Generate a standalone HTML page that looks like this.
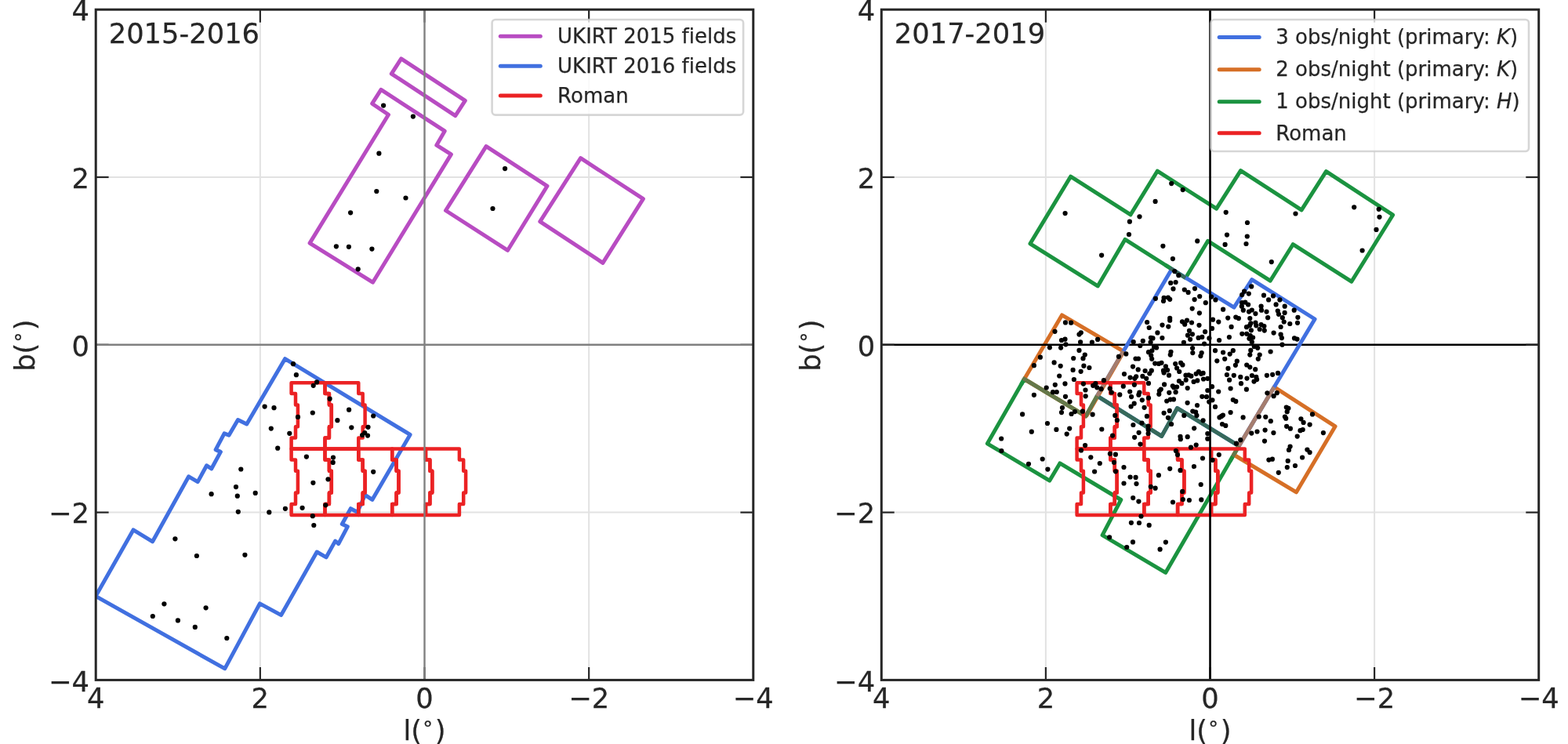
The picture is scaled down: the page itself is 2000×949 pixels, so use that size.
<!DOCTYPE html>
<html lang="en"><head><meta charset="utf-8"><title>UKIRT fields and Roman footprint</title>
<style>html,body{margin:0;padding:0;background:#fff;overflow:hidden}svg{display:block}text{font-family:'DejaVu Sans','Liberation Sans',sans-serif;font-variant-ligatures:none;font-feature-settings:"liga" 0,"clig" 0;stroke:#262626;stroke-width:0.25px}</style></head><body>
<svg width="2000" height="949" viewBox="0 0 2000 949">
<rect width="2000" height="949" fill="#fff"/>
<defs><clipPath id="cl"><rect x="122.2" y="12.2" width="838.6" height="855.2"/></clipPath><clipPath id="cr"><rect x="1124.3" y="12.2" width="838.6" height="855.2"/></clipPath></defs>
<g stroke="#e2e2e2" stroke-width="2.0">
<line x1="331.85" y1="12.2" x2="331.85" y2="867.4"/>
<line x1="122.2" y1="226.00" x2="960.8" y2="226.00"/>
<line x1="751.15" y1="12.2" x2="751.15" y2="867.4"/>
<line x1="122.2" y1="653.60" x2="960.8" y2="653.60"/>
</g>
<g clip-path="url(#cl)">
<polygon points="511.7,74.9 593.3,128.4 580.8,147.6 499.3,94.1" fill="none" stroke="#b84cc2" stroke-width="5.0" stroke-linejoin="round" stroke-linecap="butt"/>
<polygon points="486.0,114.4 567.2,167.2 556.8,185.2 575.4,196.9 475.5,360.2 395.1,310.1 495.5,146.3 474.7,132.2" fill="none" stroke="#b84cc2" stroke-width="5.0" stroke-linejoin="round" stroke-linecap="butt"/>
<polygon points="620.1,186.7 698.0,237.3 647.6,319.3 568.5,268.5" fill="none" stroke="#b84cc2" stroke-width="5.0" stroke-linejoin="round" stroke-linecap="butt"/>
<polygon points="740.6,201.7 820.4,253.6 768.9,335.3 688.8,282.7" fill="none" stroke="#b84cc2" stroke-width="5.0" stroke-linejoin="round" stroke-linecap="butt"/>
<polygon points="363.5,457.7 523.1,554.4 474.8,637.4 465.7,631.3 455.8,653.2 447.3,648.7 436.3,668.5 443.3,671.8 431.8,693.7 427.6,690.1 416.1,710.8 404.2,704.0 358.6,784.6 331.4,769.9 286.8,852.9 122.0,760.5 170.0,675.9 194.6,690.8 240.7,607.8 252.2,614.6 263.6,593.8 269.8,597.8 281.4,576.4 275.1,573.6 286.1,552.8 292.1,555.1 303.5,535.6 314.7,541.0" fill="none" stroke="#4170e0" stroke-width="5.0" stroke-linejoin="round" stroke-linecap="butt"/>
<polygon points="371.6,488.3 371.6,502.1 377.0,502.1 377.0,516.4 379.9,516.4 379.9,544.2 377.0,544.2 377.0,558.5 371.6,558.5 371.6,572.6 414.5,572.6 414.5,558.5 419.9,558.5 419.9,544.2 422.8,544.2 422.8,516.4 419.9,516.4 419.9,502.1 414.5,502.1 414.5,488.3" fill="none" stroke="#eb2224" stroke-width="4.5" stroke-linejoin="round" stroke-linecap="butt"/>
<polygon points="414.5,488.3 414.5,502.1 419.9,502.1 419.9,516.4 422.8,516.4 422.8,544.2 419.9,544.2 419.9,558.5 414.5,558.5 414.5,572.6 457.3,572.6 457.3,558.5 462.7,558.5 462.7,544.2 465.6,544.2 465.6,516.4 462.7,516.4 462.7,502.1 457.3,502.1 457.3,488.3" fill="none" stroke="#eb2224" stroke-width="4.5" stroke-linejoin="round" stroke-linecap="butt"/>
<polygon points="371.6,572.6 371.6,586.5 377.0,586.5 377.0,600.7 379.9,600.7 379.9,628.6 377.0,628.6 377.0,643.0 371.6,643.0 371.6,657.1 414.5,657.1 414.5,643.0 419.9,643.0 419.9,628.6 422.8,628.6 422.8,600.7 419.9,600.7 419.9,586.5 414.5,586.5 414.5,572.6" fill="none" stroke="#eb2224" stroke-width="4.5" stroke-linejoin="round" stroke-linecap="butt"/>
<polygon points="414.5,572.6 414.5,586.5 419.9,586.5 419.9,600.7 422.8,600.7 422.8,628.6 419.9,628.6 419.9,643.0 414.5,643.0 414.5,657.1 457.3,657.1 457.3,643.0 462.7,643.0 462.7,628.6 465.6,628.6 465.6,600.7 462.7,600.7 462.7,586.5 457.3,586.5 457.3,572.6" fill="none" stroke="#eb2224" stroke-width="4.5" stroke-linejoin="round" stroke-linecap="butt"/>
<polygon points="457.3,572.6 457.3,586.5 462.7,586.5 462.7,600.7 465.6,600.7 465.6,628.6 462.7,628.6 462.7,643.0 457.3,643.0 457.3,657.1 500.2,657.1 500.2,643.0 505.6,643.0 505.6,628.6 508.5,628.6 508.5,600.7 505.6,600.7 505.6,586.5 500.2,586.5 500.2,572.6" fill="none" stroke="#eb2224" stroke-width="4.5" stroke-linejoin="round" stroke-linecap="butt"/>
<polygon points="500.2,572.6 500.2,586.5 505.6,586.5 505.6,600.7 508.5,600.7 508.5,628.6 505.6,628.6 505.6,643.0 500.2,643.0 500.2,657.1 543.0,657.1 543.0,643.0 548.4,643.0 548.4,628.6 551.3,628.6 551.3,600.7 548.4,600.7 548.4,586.5 543.0,586.5 543.0,572.6" fill="none" stroke="#eb2224" stroke-width="4.5" stroke-linejoin="round" stroke-linecap="butt"/>
<polygon points="543.0,572.6 543.0,586.5 548.4,586.5 548.4,600.7 551.3,600.7 551.3,628.6 548.4,628.6 548.4,643.0 543.0,643.0 543.0,657.1 585.9,657.1 585.9,643.0 591.2,643.0 591.2,628.6 594.1,628.6 594.1,600.7 591.2,600.7 591.2,586.5 585.9,586.5 585.9,572.6" fill="none" stroke="#eb2224" stroke-width="4.5" stroke-linejoin="round" stroke-linecap="butt"/>
</g>
<g stroke="#262626" stroke-width="2.2">
<line x1="331.85" y1="12.2" x2="331.85" y2="28.599999999999998"/>
<line x1="331.85" y1="867.4" x2="331.85" y2="851.0"/>
<line x1="122.2" y1="226.00" x2="138.6" y2="226.00"/>
<line x1="960.8" y1="226.00" x2="944.4" y2="226.00"/>
<line x1="541.50" y1="12.2" x2="541.50" y2="28.599999999999998"/>
<line x1="541.50" y1="867.4" x2="541.50" y2="851.0"/>
<line x1="122.2" y1="439.80" x2="138.6" y2="439.80"/>
<line x1="960.8" y1="439.80" x2="944.4" y2="439.80"/>
<line x1="751.15" y1="12.2" x2="751.15" y2="28.599999999999998"/>
<line x1="751.15" y1="867.4" x2="751.15" y2="851.0"/>
<line x1="122.2" y1="653.60" x2="138.6" y2="653.60"/>
<line x1="960.8" y1="653.60" x2="944.4" y2="653.60"/>
</g>
<line x1="541.50" y1="12.2" x2="541.50" y2="867.4" stroke="#808080" stroke-width="2.4"/>
<line x1="122.2" y1="439.80" x2="960.8" y2="439.80" stroke="#808080" stroke-width="2.4"/>
<g fill="#000">
<circle cx="489.1" cy="134.6" r="3.1"/>
<circle cx="526.9" cy="148.6" r="3.1"/>
<circle cx="483.4" cy="195.7" r="3.1"/>
<circle cx="480.3" cy="244.0" r="3.1"/>
<circle cx="517.5" cy="252.5" r="3.1"/>
<circle cx="447.1" cy="271.3" r="3.1"/>
<circle cx="428.9" cy="314.3" r="3.1"/>
<circle cx="444.9" cy="314.8" r="3.1"/>
<circle cx="474.4" cy="317.6" r="3.1"/>
<circle cx="456.7" cy="343.3" r="3.1"/>
<circle cx="644.1" cy="215.1" r="3.1"/>
<circle cx="628.5" cy="266.0" r="3.1"/>
<circle cx="374.0" cy="464.2" r="3.1"/>
<circle cx="377.9" cy="478.2" r="3.1"/>
<circle cx="404.1" cy="487.4" r="3.1"/>
<circle cx="399.7" cy="491.8" r="3.1"/>
<circle cx="420.6" cy="508.7" r="3.1"/>
<circle cx="337.6" cy="518.6" r="3.1"/>
<circle cx="349.5" cy="520.2" r="3.1"/>
<circle cx="398.8" cy="526.5" r="3.1"/>
<circle cx="380.0" cy="531.9" r="3.1"/>
<circle cx="445.1" cy="522.7" r="3.1"/>
<circle cx="476.2" cy="530.5" r="3.1"/>
<circle cx="430.4" cy="536.2" r="3.1"/>
<circle cx="345.8" cy="546.6" r="3.1"/>
<circle cx="448.3" cy="545.3" r="3.1"/>
<circle cx="469.5" cy="544.8" r="3.1"/>
<circle cx="369.3" cy="552.8" r="3.1"/>
<circle cx="465.2" cy="552.0" r="3.1"/>
<circle cx="462.1" cy="555.0" r="3.1"/>
<circle cx="469.0" cy="555.6" r="3.1"/>
<circle cx="354.2" cy="571.7" r="3.1"/>
<circle cx="390.9" cy="582.6" r="3.1"/>
<circle cx="425.0" cy="583.6" r="3.1"/>
<circle cx="424.7" cy="589.9" r="3.1"/>
<circle cx="307.3" cy="598.5" r="3.1"/>
<circle cx="476.2" cy="601.8" r="3.1"/>
<circle cx="418.5" cy="611.3" r="3.1"/>
<circle cx="399.4" cy="615.8" r="3.1"/>
<circle cx="301.0" cy="621.1" r="3.1"/>
<circle cx="325.7" cy="628.9" r="3.1"/>
<circle cx="302.8" cy="632.7" r="3.1"/>
<circle cx="415.3" cy="644.3" r="3.1"/>
<circle cx="385.6" cy="647.8" r="3.1"/>
<circle cx="363.9" cy="648.8" r="3.1"/>
<circle cx="303.8" cy="652.8" r="3.1"/>
<circle cx="343.3" cy="653.4" r="3.1"/>
<circle cx="398.8" cy="658.2" r="3.1"/>
<circle cx="400.3" cy="670.0" r="3.1"/>
<circle cx="269.6" cy="630.2" r="3.1"/>
<circle cx="223.4" cy="687.3" r="3.1"/>
<circle cx="250.9" cy="709.0" r="3.1"/>
<circle cx="312.4" cy="707.8" r="3.1"/>
<circle cx="209.4" cy="770.3" r="3.1"/>
<circle cx="262.6" cy="775.3" r="3.1"/>
<circle cx="194.8" cy="786.0" r="3.1"/>
<circle cx="226.9" cy="791.4" r="3.1"/>
<circle cx="248.8" cy="799.9" r="3.1"/>
<circle cx="289.3" cy="814.0" r="3.1"/>
</g>
<rect x="122.2" y="12.2" width="838.5999999999999" height="855.1999999999999" fill="none" stroke="#262626" stroke-width="3.0" stroke-linejoin="miter"/>
<g font-size="35.3" fill="#262626">
<text transform="translate(114.00,25.90) scale(1,1.02)" font-size="35.3" text-anchor="end">4</text>
<text transform="translate(114.00,239.70) scale(1,1.02)" font-size="35.3" text-anchor="end">2</text>
<text transform="translate(114.00,453.50) scale(1,1.02)" font-size="35.3" text-anchor="end">0</text>
<text transform="translate(114.00,667.30) scale(1,1.02)" font-size="35.3" text-anchor="end">−2</text>
<text transform="translate(114.00,881.60) scale(1,1.02)" font-size="35.3" text-anchor="end">−4</text>
<text transform="translate(122.20,902.60) scale(1,1.02)" font-size="35.3" text-anchor="middle">4</text>
<text transform="translate(331.85,902.60) scale(1,1.02)" font-size="35.3" text-anchor="middle">2</text>
<text transform="translate(541.50,902.60) scale(1,1.02)" font-size="35.3" text-anchor="middle">0</text>
<text transform="translate(751.15,902.60) scale(1,1.02)" font-size="35.3" text-anchor="middle">−2</text>
<text transform="translate(960.80,902.60) scale(1,1.02)" font-size="35.3" text-anchor="middle">−4</text>
<text x="541.5" y="944.4" text-anchor="middle">l(<tspan font-size="25.3" dx="-0.3" dy="-13.6">∘</tspan><tspan dx="1.0" dy="13.6">)</tspan></text>
<text transform="translate(43.9,440.6) rotate(-90)" text-anchor="middle">b(<tspan font-size="25.3" dx="-0.3" dy="-12.9">∘</tspan><tspan dx="1.0" dy="12.9">)</tspan></text>
</g>
<text transform="translate(138.70,54.90) scale(1,1.02)" font-size="35.3" text-anchor="start" fill="#262626">2015-2016</text>
<rect x="627.6" y="25.0" width="320.5" height="121.6" rx="4.3" ry="4.3" fill="#fff" fill-opacity="0.8" stroke="#cccccc" stroke-opacity="0.8" stroke-width="2.6"/>
<line x1="638.3" y1="46.2" x2="689.3" y2="46.2" stroke="#b84cc2" stroke-width="5.0" stroke-linecap="round"/>
<text x="711.1" y="55.0" font-size="26.0" fill="#262626">UKIRT 2015 fields</text>
<line x1="638.3" y1="84.2" x2="689.3" y2="84.2" stroke="#4170e0" stroke-width="5.0" stroke-linecap="round"/>
<text x="711.1" y="93.0" font-size="26.0" fill="#262626">UKIRT 2016 fields</text>
<line x1="638.3" y1="122.1" x2="689.3" y2="122.1" stroke="#eb2224" stroke-width="5.0" stroke-linecap="round"/>
<text x="711.1" y="130.9" font-size="26.0" fill="#262626">Roman</text>
<g stroke="#e2e2e2" stroke-width="2.0">
<line x1="1333.90" y1="12.2" x2="1333.90" y2="867.4"/>
<line x1="1124.3" y1="226.00" x2="1962.7" y2="226.00"/>
<line x1="1753.10" y1="12.2" x2="1753.10" y2="867.4"/>
<line x1="1124.3" y1="653.60" x2="1962.7" y2="653.60"/>
</g>
<g clip-path="url(#cr)">
<polygon points="1365.6,225.2 1442.1,273.8 1476.2,218.2 1551.6,266.2 1582.5,217.6 1660.1,267.8 1691.5,218.7 1776.6,274.2 1723.8,359.2 1649.2,311.7 1620.2,358.2 1540.7,307.3 1512.3,354.5 1435.0,305.4 1400.2,364.9 1314.0,310.8" fill="none" stroke="#1b9340" stroke-width="5.0" stroke-linejoin="round" stroke-linecap="butt"/>
<polygon points="1306.5,483.5 1385.0,530.8 1399.4,505.0 1481.7,556.4 1501.6,520.6 1580.3,568.8 1486.7,730.4 1406.1,682.7 1429.8,637.5 1351.9,590.9 1338.8,613.1 1259.4,565.8" fill="none" stroke="#1b9340" stroke-width="5.0" stroke-linejoin="round" stroke-linecap="butt"/>
<polygon points="1354.5,401.9 1432.8,448.0 1385.0,530.8 1306.5,483.5" fill="none" stroke="#d66f26" stroke-width="5.0" stroke-linejoin="round" stroke-linecap="butt"/>
<polygon points="1625.2,493.7 1703.1,543.8 1653.5,627.8 1573.6,580.0" fill="none" stroke="#d66f26" stroke-width="5.0" stroke-linejoin="round" stroke-linecap="butt"/>
<line x1="1124.3" y1="439.80" x2="1962.7" y2="439.80" stroke="#000" stroke-width="2.6"/>
<polygon points="1494.6,343.3 1574.0,392.2 1596.8,356.6 1677.1,407.0 1580.3,568.8 1501.6,520.6 1481.7,556.4 1399.4,505.0" fill="none" stroke="#4170e0" stroke-width="5.0" stroke-linejoin="round" stroke-linecap="butt"/>
<polyline points="1433.3,448.3 1385.5,531.1" fill="none" stroke="#d66f26" stroke-width="5.0" stroke-linejoin="round" stroke-linecap="butt"/>
<polyline points="1486.6,338.2 1492.5,341.9" fill="none" stroke="#1b9340" stroke-width="5.0" stroke-linejoin="round" stroke-linecap="butt"/>
<polyline points="1306.5,483.5 1302.5,490.5" fill="none" stroke="#1b9340" stroke-width="5.0" stroke-linejoin="round" stroke-linecap="butt"/>
<polyline points="1572.3,582.2 1568.6,588.7" fill="none" stroke="#1b9340" stroke-width="5.0" stroke-linejoin="round" stroke-linecap="butt"/>
<polyline points="1492.5,341.9 1512.1,354.5" fill="none" stroke="#37695a" stroke-width="5.0" stroke-linejoin="round" stroke-linecap="butt"/>
<polyline points="1399.4,505.0 1481.7,556.4 1501.6,520.6 1580.3,568.8" fill="none" stroke="#37695a" stroke-width="5.0" stroke-linejoin="round" stroke-linecap="butt"/>
<polyline points="1304.4,482.2 1385.0,530.8 1399.4,505.0" fill="none" stroke="#64784a" stroke-width="5.0" stroke-linejoin="round" stroke-linecap="butt"/>
<polyline points="1572.3,582.2 1580.3,568.8" fill="none" stroke="#64784a" stroke-width="5.0" stroke-linejoin="round" stroke-linecap="butt"/>
<polyline points="1399.4,505.0 1432.8,448.0" fill="none" stroke="#a57d6e" stroke-width="5.0" stroke-linejoin="round" stroke-linecap="butt"/>
<polyline points="1580.3,568.8 1625.2,493.7" fill="none" stroke="#a57d6e" stroke-width="5.0" stroke-linejoin="round" stroke-linecap="butt"/>
<polygon points="1373.6,488.3 1373.6,502.1 1379.0,502.1 1379.0,516.4 1381.9,516.4 1381.9,544.2 1379.0,544.2 1379.0,558.5 1373.6,558.5 1373.6,572.6 1416.4,572.6 1416.4,558.5 1421.8,558.5 1421.8,544.2 1424.7,544.2 1424.7,516.4 1421.8,516.4 1421.8,502.1 1416.4,502.1 1416.4,488.3" fill="none" stroke="#eb2224" stroke-width="4.5" stroke-linejoin="round" stroke-linecap="butt"/>
<polygon points="1416.4,488.3 1416.4,502.1 1421.8,502.1 1421.8,516.4 1424.7,516.4 1424.7,544.2 1421.8,544.2 1421.8,558.5 1416.4,558.5 1416.4,572.6 1459.3,572.6 1459.3,558.5 1464.7,558.5 1464.7,544.2 1467.6,544.2 1467.6,516.4 1464.7,516.4 1464.7,502.1 1459.3,502.1 1459.3,488.3" fill="none" stroke="#eb2224" stroke-width="4.5" stroke-linejoin="round" stroke-linecap="butt"/>
<polygon points="1373.6,572.6 1373.6,586.5 1379.0,586.5 1379.0,600.7 1381.9,600.7 1381.9,628.6 1379.0,628.6 1379.0,643.0 1373.6,643.0 1373.6,657.1 1416.4,657.1 1416.4,643.0 1421.8,643.0 1421.8,628.6 1424.7,628.6 1424.7,600.7 1421.8,600.7 1421.8,586.5 1416.4,586.5 1416.4,572.6" fill="none" stroke="#eb2224" stroke-width="4.5" stroke-linejoin="round" stroke-linecap="butt"/>
<polygon points="1416.4,572.6 1416.4,586.5 1421.8,586.5 1421.8,600.7 1424.7,600.7 1424.7,628.6 1421.8,628.6 1421.8,643.0 1416.4,643.0 1416.4,657.1 1459.3,657.1 1459.3,643.0 1464.7,643.0 1464.7,628.6 1467.6,628.6 1467.6,600.7 1464.7,600.7 1464.7,586.5 1459.3,586.5 1459.3,572.6" fill="none" stroke="#eb2224" stroke-width="4.5" stroke-linejoin="round" stroke-linecap="butt"/>
<polygon points="1459.3,572.6 1459.3,586.5 1464.7,586.5 1464.7,600.7 1467.6,600.7 1467.6,628.6 1464.7,628.6 1464.7,643.0 1459.3,643.0 1459.3,657.1 1502.1,657.1 1502.1,643.0 1507.5,643.0 1507.5,628.6 1510.4,628.6 1510.4,600.7 1507.5,600.7 1507.5,586.5 1502.1,586.5 1502.1,572.6" fill="none" stroke="#eb2224" stroke-width="4.5" stroke-linejoin="round" stroke-linecap="butt"/>
<polygon points="1502.1,572.6 1502.1,586.5 1507.5,586.5 1507.5,600.7 1510.4,600.7 1510.4,628.6 1507.5,628.6 1507.5,643.0 1502.1,643.0 1502.1,657.1 1545.0,657.1 1545.0,643.0 1550.4,643.0 1550.4,628.6 1553.3,628.6 1553.3,600.7 1550.4,600.7 1550.4,586.5 1545.0,586.5 1545.0,572.6" fill="none" stroke="#eb2224" stroke-width="4.5" stroke-linejoin="round" stroke-linecap="butt"/>
<polygon points="1545.0,572.6 1545.0,586.5 1550.4,586.5 1550.4,600.7 1553.3,600.7 1553.3,628.6 1550.4,628.6 1550.4,643.0 1545.0,643.0 1545.0,657.1 1587.8,657.1 1587.8,643.0 1593.2,643.0 1593.2,628.6 1596.1,628.6 1596.1,600.7 1593.2,600.7 1593.2,586.5 1587.8,586.5 1587.8,572.6" fill="none" stroke="#eb2224" stroke-width="4.5" stroke-linejoin="round" stroke-linecap="butt"/>
</g>
<g stroke="#262626" stroke-width="2.2">
<line x1="1333.90" y1="12.2" x2="1333.90" y2="28.599999999999998"/>
<line x1="1333.90" y1="867.4" x2="1333.90" y2="851.0"/>
<line x1="1124.3" y1="226.00" x2="1140.7" y2="226.00"/>
<line x1="1962.7" y1="226.00" x2="1946.3" y2="226.00"/>
<line x1="1543.50" y1="12.2" x2="1543.50" y2="28.599999999999998"/>
<line x1="1543.50" y1="867.4" x2="1543.50" y2="851.0"/>
<line x1="1124.3" y1="439.80" x2="1140.7" y2="439.80"/>
<line x1="1962.7" y1="439.80" x2="1946.3" y2="439.80"/>
<line x1="1753.10" y1="12.2" x2="1753.10" y2="28.599999999999998"/>
<line x1="1753.10" y1="867.4" x2="1753.10" y2="851.0"/>
<line x1="1124.3" y1="653.60" x2="1140.7" y2="653.60"/>
<line x1="1962.7" y1="653.60" x2="1946.3" y2="653.60"/>
</g>
<line x1="1543.50" y1="12.2" x2="1543.50" y2="867.4" stroke="#000" stroke-width="2.6"/>
<g fill="#000">
<circle cx="1498.2" cy="346.1" r="3.1"/>
<circle cx="1503.3" cy="351.2" r="3.1"/>
<circle cx="1493.2" cy="360.9" r="3.1"/>
<circle cx="1499.6" cy="360.0" r="3.1"/>
<circle cx="1496.5" cy="368.4" r="3.1"/>
<circle cx="1510.8" cy="369.5" r="3.1"/>
<circle cx="1515.6" cy="372.9" r="3.1"/>
<circle cx="1524.0" cy="368.1" r="3.1"/>
<circle cx="1530.2" cy="378.0" r="3.1"/>
<circle cx="1523.6" cy="382.1" r="3.1"/>
<circle cx="1537.8" cy="386.2" r="3.1"/>
<circle cx="1545.1" cy="378.6" r="3.1"/>
<circle cx="1550.4" cy="382.4" r="3.1"/>
<circle cx="1473.9" cy="380.8" r="3.1"/>
<circle cx="1484.6" cy="379.9" r="3.1"/>
<circle cx="1484.0" cy="384.0" r="3.1"/>
<circle cx="1489.9" cy="379.5" r="3.1"/>
<circle cx="1492.2" cy="381.8" r="3.1"/>
<circle cx="1520.7" cy="393.6" r="3.1"/>
<circle cx="1529.9" cy="399.3" r="3.1"/>
<circle cx="1560.1" cy="394.7" r="3.1"/>
<circle cx="1566.2" cy="405.6" r="3.1"/>
<circle cx="1492.2" cy="405.8" r="3.1"/>
<circle cx="1492.2" cy="408.7" r="3.1"/>
<circle cx="1463.1" cy="411.0" r="3.1"/>
<circle cx="1465.7" cy="418.0" r="3.1"/>
<circle cx="1482.5" cy="414.6" r="3.1"/>
<circle cx="1490.3" cy="416.6" r="3.1"/>
<circle cx="1508.0" cy="410.3" r="3.1"/>
<circle cx="1514.0" cy="408.7" r="3.1"/>
<circle cx="1511.2" cy="413.7" r="3.1"/>
<circle cx="1520.0" cy="411.5" r="3.1"/>
<circle cx="1529.5" cy="414.8" r="3.1"/>
<circle cx="1547.0" cy="407.7" r="3.1"/>
<circle cx="1554.3" cy="410.6" r="3.1"/>
<circle cx="1546.0" cy="418.9" r="3.1"/>
<circle cx="1570.6" cy="416.9" r="3.1"/>
<circle cx="1476.4" cy="424.4" r="3.1"/>
<circle cx="1517.0" cy="421.8" r="3.1"/>
<circle cx="1515.0" cy="427.7" r="3.1"/>
<circle cx="1520.9" cy="426.3" r="3.1"/>
<circle cx="1518.1" cy="432.8" r="3.1"/>
<circle cx="1537.1" cy="423.2" r="3.1"/>
<circle cx="1528.6" cy="430.9" r="3.1"/>
<circle cx="1533.3" cy="429.9" r="3.1"/>
<circle cx="1542.4" cy="431.4" r="3.1"/>
<circle cx="1567.9" cy="430.1" r="3.1"/>
<circle cx="1555.1" cy="434.0" r="3.1"/>
<circle cx="1467.9" cy="430.8" r="3.1"/>
<circle cx="1470.5" cy="431.4" r="3.1"/>
<circle cx="1482.4" cy="431.1" r="3.1"/>
<circle cx="1457.8" cy="434.9" r="3.1"/>
<circle cx="1445.7" cy="436.2" r="3.1"/>
<circle cx="1467.6" cy="436.6" r="3.1"/>
<circle cx="1509.9" cy="436.8" r="3.1"/>
<circle cx="1536.1" cy="438.5" r="3.1"/>
<circle cx="1454.3" cy="441.0" r="3.1"/>
<circle cx="1472.0" cy="442.5" r="3.1"/>
<circle cx="1475.1" cy="443.5" r="3.1"/>
<circle cx="1469.4" cy="447.3" r="3.1"/>
<circle cx="1465.0" cy="449.2" r="3.1"/>
<circle cx="1521.1" cy="444.0" r="3.1"/>
<circle cx="1521.3" cy="450.1" r="3.1"/>
<circle cx="1493.5" cy="448.8" r="3.1"/>
<circle cx="1492.8" cy="452.6" r="3.1"/>
<circle cx="1532.7" cy="450.1" r="3.1"/>
<circle cx="1531.4" cy="454.1" r="3.1"/>
<circle cx="1550.0" cy="447.2" r="3.1"/>
<circle cx="1560.1" cy="449.5" r="3.1"/>
<circle cx="1568.7" cy="451.6" r="3.1"/>
<circle cx="1436.3" cy="451.4" r="3.1"/>
<circle cx="1426.9" cy="454.8" r="3.1"/>
<circle cx="1468.2" cy="453.3" r="3.1"/>
<circle cx="1448.5" cy="457.5" r="3.1"/>
<circle cx="1452.0" cy="457.5" r="3.1"/>
<circle cx="1469.2" cy="457.8" r="3.1"/>
<circle cx="1473.2" cy="463.6" r="3.1"/>
<circle cx="1478.0" cy="463.9" r="3.1"/>
<circle cx="1481.5" cy="462.8" r="3.1"/>
<circle cx="1486.9" cy="467.3" r="3.1"/>
<circle cx="1499.2" cy="464.1" r="3.1"/>
<circle cx="1506.1" cy="462.8" r="3.1"/>
<circle cx="1508.4" cy="465.4" r="3.1"/>
<circle cx="1501.1" cy="469.5" r="3.1"/>
<circle cx="1552.3" cy="460.3" r="3.1"/>
<circle cx="1562.2" cy="457.8" r="3.1"/>
<circle cx="1566.5" cy="469.9" r="3.1"/>
<circle cx="1445.0" cy="467.6" r="3.1"/>
<circle cx="1451.7" cy="471.4" r="3.1"/>
<circle cx="1460.6" cy="473.0" r="3.1"/>
<circle cx="1468.8" cy="472.7" r="3.1"/>
<circle cx="1466.3" cy="476.5" r="3.1"/>
<circle cx="1434.0" cy="477.1" r="3.1"/>
<circle cx="1484.0" cy="472.7" r="3.1"/>
<circle cx="1489.1" cy="472.1" r="3.1"/>
<circle cx="1484.6" cy="475.5" r="3.1"/>
<circle cx="1491.0" cy="478.7" r="3.1"/>
<circle cx="1504.2" cy="474.0" r="3.1"/>
<circle cx="1528.9" cy="474.0" r="3.1"/>
<circle cx="1525.7" cy="476.8" r="3.1"/>
<circle cx="1532.1" cy="476.8" r="3.1"/>
<circle cx="1534.6" cy="475.9" r="3.1"/>
<circle cx="1512.5" cy="478.7" r="3.1"/>
<circle cx="1516.2" cy="478.4" r="3.1"/>
<circle cx="1519.4" cy="479.7" r="3.1"/>
<circle cx="1564.9" cy="478.0" r="3.1"/>
<circle cx="1441.6" cy="481.6" r="3.1"/>
<circle cx="1449.2" cy="480.3" r="3.1"/>
<circle cx="1447.3" cy="482.8" r="3.1"/>
<circle cx="1457.4" cy="479.9" r="3.1"/>
<circle cx="1462.2" cy="482.8" r="3.1"/>
<circle cx="1465.0" cy="488.9" r="3.1"/>
<circle cx="1503.9" cy="486.0" r="3.1"/>
<circle cx="1507.4" cy="488.9" r="3.1"/>
<circle cx="1512.7" cy="484.7" r="3.1"/>
<circle cx="1522.6" cy="486.9" r="3.1"/>
<circle cx="1527.3" cy="485.4" r="3.1"/>
<circle cx="1535.0" cy="483.5" r="3.1"/>
<circle cx="1540.3" cy="482.8" r="3.1"/>
<circle cx="1568.1" cy="484.7" r="3.1"/>
<circle cx="1432.8" cy="492.7" r="3.1"/>
<circle cx="1446.9" cy="490.8" r="3.1"/>
<circle cx="1485.1" cy="490.4" r="3.1"/>
<circle cx="1495.8" cy="492.3" r="3.1"/>
<circle cx="1501.1" cy="493.6" r="3.1"/>
<circle cx="1497.3" cy="494.2" r="3.1"/>
<circle cx="1546.0" cy="493.2" r="3.1"/>
<circle cx="1415.7" cy="495.5" r="3.1"/>
<circle cx="1417.8" cy="500.5" r="3.1"/>
<circle cx="1441.2" cy="499.5" r="3.1"/>
<circle cx="1453.4" cy="500.5" r="3.1"/>
<circle cx="1452.4" cy="503.7" r="3.1"/>
<circle cx="1428.3" cy="503.4" r="3.1"/>
<circle cx="1480.8" cy="496.5" r="3.1"/>
<circle cx="1478.9" cy="498.6" r="3.1"/>
<circle cx="1478.3" cy="502.8" r="3.1"/>
<circle cx="1491.3" cy="500.8" r="3.1"/>
<circle cx="1499.6" cy="500.2" r="3.1"/>
<circle cx="1514.7" cy="495.1" r="3.1"/>
<circle cx="1540.3" cy="498.0" r="3.1"/>
<circle cx="1554.2" cy="499.5" r="3.1"/>
<circle cx="1569.6" cy="495.5" r="3.1"/>
<circle cx="1443.1" cy="506.1" r="3.1"/>
<circle cx="1465.0" cy="507.7" r="3.1"/>
<circle cx="1533.3" cy="505.8" r="3.1"/>
<circle cx="1539.0" cy="506.2" r="3.1"/>
<circle cx="1456.8" cy="510.3" r="3.1"/>
<circle cx="1488.2" cy="511.5" r="3.1"/>
<circle cx="1492.8" cy="509.6" r="3.1"/>
<circle cx="1497.0" cy="509.4" r="3.1"/>
<circle cx="1546.4" cy="510.3" r="3.1"/>
<circle cx="1542.2" cy="512.6" r="3.1"/>
<circle cx="1514.6" cy="513.8" r="3.1"/>
<circle cx="1527.0" cy="517.0" r="3.1"/>
<circle cx="1446.7" cy="514.7" r="3.1"/>
<circle cx="1442.6" cy="518.5" r="3.1"/>
<circle cx="1459.6" cy="519.8" r="3.1"/>
<circle cx="1550.0" cy="518.9" r="3.1"/>
<circle cx="1491.8" cy="523.9" r="3.1"/>
<circle cx="1484.6" cy="526.8" r="3.1"/>
<circle cx="1521.3" cy="524.6" r="3.1"/>
<circle cx="1525.1" cy="525.6" r="3.1"/>
<circle cx="1526.4" cy="529.9" r="3.1"/>
<circle cx="1510.3" cy="529.9" r="3.1"/>
<circle cx="1422.3" cy="529.9" r="3.1"/>
<circle cx="1462.9" cy="530.9" r="3.1"/>
<circle cx="1569.6" cy="526.1" r="3.1"/>
<circle cx="1559.9" cy="529.6" r="3.1"/>
<circle cx="1555.5" cy="532.4" r="3.1"/>
<circle cx="1558.0" cy="530.9" r="3.1"/>
<circle cx="1489.9" cy="532.8" r="3.1"/>
<circle cx="1424.9" cy="536.0" r="3.1"/>
<circle cx="1534.6" cy="536.3" r="3.1"/>
<circle cx="1456.5" cy="539.5" r="3.1"/>
<circle cx="1494.1" cy="541.0" r="3.1"/>
<circle cx="1445.4" cy="542.0" r="3.1"/>
<circle cx="1559.0" cy="541.0" r="3.1"/>
<circle cx="1563.3" cy="542.9" r="3.1"/>
<circle cx="1464.6" cy="543.5" r="3.1"/>
<circle cx="1523.2" cy="546.3" r="3.1"/>
<circle cx="1464.6" cy="548.0" r="3.1"/>
<circle cx="1452.6" cy="551.8" r="3.1"/>
<circle cx="1464.6" cy="553.0" r="3.1"/>
<circle cx="1419.1" cy="555.6" r="3.1"/>
<circle cx="1540.3" cy="553.0" r="3.1"/>
<circle cx="1505.5" cy="556.8" r="3.1"/>
<circle cx="1505.8" cy="560.2" r="3.1"/>
<circle cx="1514.7" cy="557.2" r="3.1"/>
<circle cx="1447.1" cy="557.8" r="3.1"/>
<circle cx="1540.3" cy="559.7" r="3.1"/>
<circle cx="1454.5" cy="566.6" r="3.1"/>
<circle cx="1525.7" cy="567.6" r="3.1"/>
<circle cx="1519.0" cy="570.7" r="3.1"/>
<circle cx="1499.9" cy="575.1" r="3.1"/>
<circle cx="1415.9" cy="578.8" r="3.1"/>
<circle cx="1422.9" cy="579.7" r="3.1"/>
<circle cx="1421.0" cy="589.8" r="3.1"/>
<circle cx="1423.0" cy="601.3" r="3.1"/>
<circle cx="1433.5" cy="596.0" r="3.1"/>
<circle cx="1441.6" cy="608.5" r="3.1"/>
<circle cx="1448.6" cy="608.9" r="3.1"/>
<circle cx="1433.5" cy="616.5" r="3.1"/>
<circle cx="1449.5" cy="617.1" r="3.1"/>
<circle cx="1467.8" cy="620.8" r="3.1"/>
<circle cx="1473.6" cy="622.7" r="3.1"/>
<circle cx="1477.9" cy="606.2" r="3.1"/>
<circle cx="1492.2" cy="597.8" r="3.1"/>
<circle cx="1502.0" cy="580.1" r="3.1"/>
<circle cx="1505.5" cy="599.9" r="3.1"/>
<circle cx="1523.0" cy="595.0" r="3.1"/>
<circle cx="1534.0" cy="584.5" r="3.1"/>
<circle cx="1546.6" cy="586.8" r="3.1"/>
<circle cx="1554.8" cy="580.1" r="3.1"/>
<circle cx="1531.7" cy="618.0" r="3.1"/>
<circle cx="1508.2" cy="626.9" r="3.1"/>
<circle cx="1445.2" cy="635.1" r="3.1"/>
<circle cx="1452.4" cy="639.6" r="3.1"/>
<circle cx="1496.0" cy="640.5" r="3.1"/>
<circle cx="1508.8" cy="637.0" r="3.1"/>
<circle cx="1516.9" cy="638.0" r="3.1"/>
<circle cx="1532.3" cy="637.4" r="3.1"/>
<circle cx="1455.5" cy="658.5" r="3.1"/>
<circle cx="1442.9" cy="666.8" r="3.1"/>
<circle cx="1453.0" cy="667.0" r="3.1"/>
<circle cx="1465.7" cy="669.9" r="3.1"/>
<circle cx="1415.1" cy="685.3" r="3.1"/>
<circle cx="1445.0" cy="691.4" r="3.1"/>
<circle cx="1486.9" cy="691.6" r="3.1"/>
<circle cx="1359.0" cy="411.4" r="3.1"/>
<circle cx="1366.1" cy="411.7" r="3.1"/>
<circle cx="1345.5" cy="422.8" r="3.1"/>
<circle cx="1378.8" cy="424.3" r="3.1"/>
<circle cx="1376.5" cy="426.6" r="3.1"/>
<circle cx="1354.0" cy="434.0" r="3.1"/>
<circle cx="1358.5" cy="432.7" r="3.1"/>
<circle cx="1378.1" cy="436.4" r="3.1"/>
<circle cx="1392.9" cy="436.7" r="3.1"/>
<circle cx="1400.1" cy="432.9" r="3.1"/>
<circle cx="1359.4" cy="439.3" r="3.1"/>
<circle cx="1338.9" cy="443.3" r="3.1"/>
<circle cx="1353.1" cy="443.6" r="3.1"/>
<circle cx="1376.5" cy="446.9" r="3.1"/>
<circle cx="1383.8" cy="452.6" r="3.1"/>
<circle cx="1381.5" cy="457.2" r="3.1"/>
<circle cx="1369.2" cy="457.0" r="3.1"/>
<circle cx="1326.9" cy="455.7" r="3.1"/>
<circle cx="1344.6" cy="462.4" r="3.1"/>
<circle cx="1352.7" cy="466.8" r="3.1"/>
<circle cx="1318.9" cy="466.2" r="3.1"/>
<circle cx="1382.4" cy="466.7" r="3.1"/>
<circle cx="1389.4" cy="469.0" r="3.1"/>
<circle cx="1368.6" cy="471.9" r="3.1"/>
<circle cx="1378.6" cy="473.8" r="3.1"/>
<circle cx="1351.2" cy="479.5" r="3.1"/>
<circle cx="1369.9" cy="484.0" r="3.1"/>
<circle cx="1407.9" cy="485.2" r="3.1"/>
<circle cx="1381.9" cy="489.6" r="3.1"/>
<circle cx="1358.5" cy="489.4" r="3.1"/>
<circle cx="1345.8" cy="490.8" r="3.1"/>
<circle cx="1334.7" cy="494.5" r="3.1"/>
<circle cx="1397.4" cy="489.2" r="3.1"/>
<circle cx="1394.2" cy="491.8" r="3.1"/>
<circle cx="1399.3" cy="494.3" r="3.1"/>
<circle cx="1404.6" cy="496.2" r="3.1"/>
<circle cx="1384.5" cy="497.5" r="3.1"/>
<circle cx="1343.0" cy="500.2" r="3.1"/>
<circle cx="1347.8" cy="500.0" r="3.1"/>
<circle cx="1318.9" cy="503.8" r="3.1"/>
<circle cx="1359.0" cy="505.8" r="3.1"/>
<circle cx="1384.7" cy="505.3" r="3.1"/>
<circle cx="1364.5" cy="512.3" r="3.1"/>
<circle cx="1355.0" cy="520.1" r="3.1"/>
<circle cx="1354.0" cy="526.1" r="3.1"/>
<circle cx="1371.0" cy="525.1" r="3.1"/>
<circle cx="1366.6" cy="528.0" r="3.1"/>
<circle cx="1380.9" cy="524.7" r="3.1"/>
<circle cx="1393.6" cy="528.7" r="3.1"/>
<circle cx="1304.1" cy="528.4" r="3.1"/>
<circle cx="1336.0" cy="540.0" r="3.1"/>
<circle cx="1347.4" cy="547.9" r="3.1"/>
<circle cx="1364.2" cy="546.6" r="3.1"/>
<circle cx="1360.7" cy="553.6" r="3.1"/>
<circle cx="1315.8" cy="550.7" r="3.1"/>
<circle cx="1405.3" cy="547.5" r="3.1"/>
<circle cx="1277.2" cy="559.5" r="3.1"/>
<circle cx="1277.4" cy="575.0" r="3.1"/>
<circle cx="1384.1" cy="568.1" r="3.1"/>
<circle cx="1379.0" cy="574.4" r="3.1"/>
<circle cx="1391.3" cy="583.3" r="3.1"/>
<circle cx="1402.8" cy="591.0" r="3.1"/>
<circle cx="1396.1" cy="601.5" r="3.1"/>
<circle cx="1329.7" cy="585.5" r="3.1"/>
<circle cx="1312.0" cy="591.8" r="3.1"/>
<circle cx="1336.4" cy="598.6" r="3.1"/>
<circle cx="1596.2" cy="365.4" r="3.1"/>
<circle cx="1587.1" cy="371.7" r="3.1"/>
<circle cx="1584.2" cy="376.1" r="3.1"/>
<circle cx="1592.8" cy="374.6" r="3.1"/>
<circle cx="1612.0" cy="376.7" r="3.1"/>
<circle cx="1624.0" cy="377.4" r="3.1"/>
<circle cx="1618.1" cy="382.4" r="3.1"/>
<circle cx="1632.4" cy="382.4" r="3.1"/>
<circle cx="1627.6" cy="388.4" r="3.1"/>
<circle cx="1638.7" cy="390.7" r="3.1"/>
<circle cx="1584.2" cy="386.2" r="3.1"/>
<circle cx="1588.3" cy="385.6" r="3.1"/>
<circle cx="1592.1" cy="388.5" r="3.1"/>
<circle cx="1583.9" cy="390.7" r="3.1"/>
<circle cx="1585.8" cy="395.7" r="3.1"/>
<circle cx="1608.6" cy="390.7" r="3.1"/>
<circle cx="1609.0" cy="395.7" r="3.1"/>
<circle cx="1615.5" cy="397.6" r="3.1"/>
<circle cx="1596.8" cy="395.5" r="3.1"/>
<circle cx="1593.0" cy="397.6" r="3.1"/>
<circle cx="1601.4" cy="400.1" r="3.1"/>
<circle cx="1629.8" cy="396.6" r="3.1"/>
<circle cx="1631.0" cy="400.8" r="3.1"/>
<circle cx="1638.6" cy="398.9" r="3.1"/>
<circle cx="1650.7" cy="395.7" r="3.1"/>
<circle cx="1655.4" cy="404.8" r="3.1"/>
<circle cx="1576.3" cy="404.6" r="3.1"/>
<circle cx="1579.9" cy="406.1" r="3.1"/>
<circle cx="1594.3" cy="406.1" r="3.1"/>
<circle cx="1617.1" cy="405.2" r="3.1"/>
<circle cx="1635.8" cy="405.2" r="3.1"/>
<circle cx="1637.7" cy="410.5" r="3.1"/>
<circle cx="1645.3" cy="413.0" r="3.1"/>
<circle cx="1655.0" cy="411.8" r="3.1"/>
<circle cx="1590.0" cy="417.2" r="3.1"/>
<circle cx="1595.3" cy="412.4" r="3.1"/>
<circle cx="1594.0" cy="415.3" r="3.1"/>
<circle cx="1601.4" cy="411.5" r="3.1"/>
<circle cx="1602.3" cy="415.3" r="3.1"/>
<circle cx="1608.6" cy="414.1" r="3.1"/>
<circle cx="1612.4" cy="416.0" r="3.1"/>
<circle cx="1606.7" cy="420.0" r="3.1"/>
<circle cx="1612.8" cy="421.6" r="3.1"/>
<circle cx="1595.9" cy="421.3" r="3.1"/>
<circle cx="1633.6" cy="417.0" r="3.1"/>
<circle cx="1624.6" cy="424.6" r="3.1"/>
<circle cx="1633.6" cy="426.7" r="3.1"/>
<circle cx="1634.9" cy="431.1" r="3.1"/>
<circle cx="1584.3" cy="425.8" r="3.1"/>
<circle cx="1590.2" cy="425.8" r="3.1"/>
<circle cx="1594.7" cy="428.0" r="3.1"/>
<circle cx="1593.4" cy="431.8" r="3.1"/>
<circle cx="1598.1" cy="430.5" r="3.1"/>
<circle cx="1596.8" cy="436.2" r="3.1"/>
<circle cx="1651.0" cy="431.4" r="3.1"/>
<circle cx="1654.5" cy="432.6" r="3.1"/>
<circle cx="1635.5" cy="439.7" r="3.1"/>
<circle cx="1599.7" cy="441.9" r="3.1"/>
<circle cx="1604.2" cy="443.8" r="3.1"/>
<circle cx="1595.3" cy="446.9" r="3.1"/>
<circle cx="1572.8" cy="447.2" r="3.1"/>
<circle cx="1620.6" cy="448.5" r="3.1"/>
<circle cx="1594.3" cy="452.6" r="3.1"/>
<circle cx="1606.7" cy="452.6" r="3.1"/>
<circle cx="1577.8" cy="460.7" r="3.1"/>
<circle cx="1575.9" cy="465.8" r="3.1"/>
<circle cx="1590.2" cy="465.5" r="3.1"/>
<circle cx="1594.3" cy="468.3" r="3.1"/>
<circle cx="1601.2" cy="471.2" r="3.1"/>
<circle cx="1604.8" cy="457.8" r="3.1"/>
<circle cx="1573.8" cy="478.8" r="3.1"/>
<circle cx="1582.3" cy="480.9" r="3.1"/>
<circle cx="1590.5" cy="482.6" r="3.1"/>
<circle cx="1596.9" cy="479.0" r="3.1"/>
<circle cx="1602.3" cy="480.9" r="3.1"/>
<circle cx="1603.1" cy="484.1" r="3.1"/>
<circle cx="1599.5" cy="486.6" r="3.1"/>
<circle cx="1583.0" cy="489.2" r="3.1"/>
<circle cx="1615.9" cy="478.8" r="3.1"/>
<circle cx="1623.1" cy="477.8" r="3.1"/>
<circle cx="1630.0" cy="475.9" r="3.1"/>
<circle cx="1589.9" cy="496.7" r="3.1"/>
<circle cx="1616.4" cy="501.3" r="3.1"/>
<circle cx="1624.6" cy="505.2" r="3.1"/>
<circle cx="1628.8" cy="501.2" r="3.1"/>
<circle cx="1572.8" cy="510.0" r="3.1"/>
<circle cx="1576.3" cy="511.9" r="3.1"/>
<circle cx="1585.6" cy="532.4" r="3.1"/>
<circle cx="1605.8" cy="531.5" r="3.1"/>
<circle cx="1614.3" cy="531.8" r="3.1"/>
<circle cx="1620.8" cy="537.2" r="3.1"/>
<circle cx="1640.8" cy="519.5" r="3.1"/>
<circle cx="1643.4" cy="520.8" r="3.1"/>
<circle cx="1641.7" cy="525.2" r="3.1"/>
<circle cx="1638.9" cy="531.5" r="3.1"/>
<circle cx="1640.2" cy="533.7" r="3.1"/>
<circle cx="1674.0" cy="528.4" r="3.1"/>
<circle cx="1659.4" cy="534.3" r="3.1"/>
<circle cx="1662.6" cy="538.9" r="3.1"/>
<circle cx="1670.6" cy="541.6" r="3.1"/>
<circle cx="1641.1" cy="543.8" r="3.1"/>
<circle cx="1645.9" cy="546.7" r="3.1"/>
<circle cx="1661.7" cy="548.0" r="3.1"/>
<circle cx="1658.5" cy="549.2" r="3.1"/>
<circle cx="1687.9" cy="552.1" r="3.1"/>
<circle cx="1654.7" cy="556.6" r="3.1"/>
<circle cx="1596.3" cy="552.6" r="3.1"/>
<circle cx="1603.5" cy="550.5" r="3.1"/>
<circle cx="1613.6" cy="548.6" r="3.1"/>
<circle cx="1624.4" cy="552.1" r="3.1"/>
<circle cx="1582.3" cy="561.2" r="3.1"/>
<circle cx="1577.0" cy="565.7" r="3.1"/>
<circle cx="1613.0" cy="562.6" r="3.1"/>
<circle cx="1645.6" cy="569.5" r="3.1"/>
<circle cx="1644.0" cy="573.9" r="3.1"/>
<circle cx="1667.4" cy="573.6" r="3.1"/>
<circle cx="1670.6" cy="577.1" r="3.1"/>
<circle cx="1661.1" cy="583.5" r="3.1"/>
<circle cx="1618.4" cy="586.6" r="3.1"/>
<circle cx="1622.9" cy="585.7" r="3.1"/>
<circle cx="1642.7" cy="587.9" r="3.1"/>
<circle cx="1641.8" cy="596.1" r="3.1"/>
<circle cx="1652.0" cy="594.0" r="3.1"/>
<circle cx="1630.8" cy="602.8" r="3.1"/>
<circle cx="1358.6" cy="272.1" r="3.1"/>
<circle cx="1494.2" cy="234.1" r="3.1"/>
<circle cx="1508.7" cy="242.1" r="3.1"/>
<circle cx="1473.6" cy="256.9" r="3.1"/>
<circle cx="1453.5" cy="276.3" r="3.1"/>
<circle cx="1440.9" cy="282.7" r="3.1"/>
<circle cx="1440.0" cy="299.0" r="3.1"/>
<circle cx="1527.2" cy="307.4" r="3.1"/>
<circle cx="1483.4" cy="313.8" r="3.1"/>
<circle cx="1405.1" cy="325.6" r="3.1"/>
<circle cx="1495.9" cy="330.1" r="3.1"/>
<circle cx="1563.7" cy="270.8" r="3.1"/>
<circle cx="1591.0" cy="284.0" r="3.1"/>
<circle cx="1652.5" cy="272.5" r="3.1"/>
<circle cx="1565.0" cy="299.6" r="3.1"/>
<circle cx="1590.8" cy="301.5" r="3.1"/>
<circle cx="1562.6" cy="311.9" r="3.1"/>
<circle cx="1589.5" cy="311.0" r="3.1"/>
<circle cx="1621.8" cy="334.1" r="3.1"/>
<circle cx="1727.2" cy="264.3" r="3.1"/>
<circle cx="1758.7" cy="266.8" r="3.1"/>
<circle cx="1759.5" cy="276.8" r="3.1"/>
<circle cx="1755.5" cy="292.9" r="3.1"/>
<circle cx="1737.6" cy="319.5" r="3.1"/>
<circle cx="1437.2" cy="698.0" r="3.1"/>
<circle cx="1479.6" cy="700.7" r="3.1"/>
</g>
<rect x="1124.3" y="12.2" width="838.4000000000001" height="855.1999999999999" fill="none" stroke="#262626" stroke-width="3.0" stroke-linejoin="miter"/>
<g font-size="35.3" fill="#262626">
<text transform="translate(1116.10,25.90) scale(1,1.02)" font-size="35.3" text-anchor="end">4</text>
<text transform="translate(1116.10,239.70) scale(1,1.02)" font-size="35.3" text-anchor="end">2</text>
<text transform="translate(1116.10,453.50) scale(1,1.02)" font-size="35.3" text-anchor="end">0</text>
<text transform="translate(1116.10,667.30) scale(1,1.02)" font-size="35.3" text-anchor="end">−2</text>
<text transform="translate(1116.10,881.60) scale(1,1.02)" font-size="35.3" text-anchor="end">−4</text>
<text transform="translate(1124.30,902.60) scale(1,1.02)" font-size="35.3" text-anchor="middle">4</text>
<text transform="translate(1333.90,902.60) scale(1,1.02)" font-size="35.3" text-anchor="middle">2</text>
<text transform="translate(1543.50,902.60) scale(1,1.02)" font-size="35.3" text-anchor="middle">0</text>
<text transform="translate(1753.10,902.60) scale(1,1.02)" font-size="35.3" text-anchor="middle">−2</text>
<text transform="translate(1962.70,902.60) scale(1,1.02)" font-size="35.3" text-anchor="middle">−4</text>
<text x="1543.5" y="944.4" text-anchor="middle">l(<tspan font-size="25.3" dx="-0.3" dy="-13.6">∘</tspan><tspan dx="1.0" dy="13.6">)</tspan></text>
<text transform="translate(1046.0,440.6) rotate(-90)" text-anchor="middle">b(<tspan font-size="25.3" dx="-0.3" dy="-12.9">∘</tspan><tspan dx="1.0" dy="12.9">)</tspan></text>
</g>
<text transform="translate(1140.80,54.90) scale(1,1.02)" font-size="35.3" text-anchor="start" fill="#262626">2017-2019</text>
<rect x="1544.5" y="25.0" width="405.5" height="168.0" rx="4.3" ry="4.3" fill="#fff" fill-opacity="0.8" stroke="#cccccc" stroke-opacity="0.8" stroke-width="2.6"/>
<line x1="1555.2" y1="47.5" x2="1606.2" y2="47.5" stroke="#4170e0" stroke-width="5.0" stroke-linecap="round"/>
<text x="1627.3" y="55.6" font-size="26.0" fill="#262626">3 obs/night (primary: <tspan font-style="italic">K</tspan>)</text>
<line x1="1555.2" y1="88.7" x2="1606.2" y2="88.7" stroke="#d66f26" stroke-width="5.0" stroke-linecap="round"/>
<text x="1627.3" y="96.8" font-size="26.0" fill="#262626">2 obs/night (primary: <tspan font-style="italic">K</tspan>)</text>
<line x1="1555.2" y1="129.8" x2="1606.2" y2="129.8" stroke="#1b9340" stroke-width="5.0" stroke-linecap="round"/>
<text x="1627.3" y="137.9" font-size="26.0" fill="#262626">1 obs/night (primary: <tspan font-style="italic">H</tspan>)</text>
<line x1="1555.2" y1="169.7" x2="1606.2" y2="169.7" stroke="#eb2224" stroke-width="5.0" stroke-linecap="round"/>
<text x="1627.3" y="178.5" font-size="26.0" fill="#262626">Roman</text>
</svg></body></html>
